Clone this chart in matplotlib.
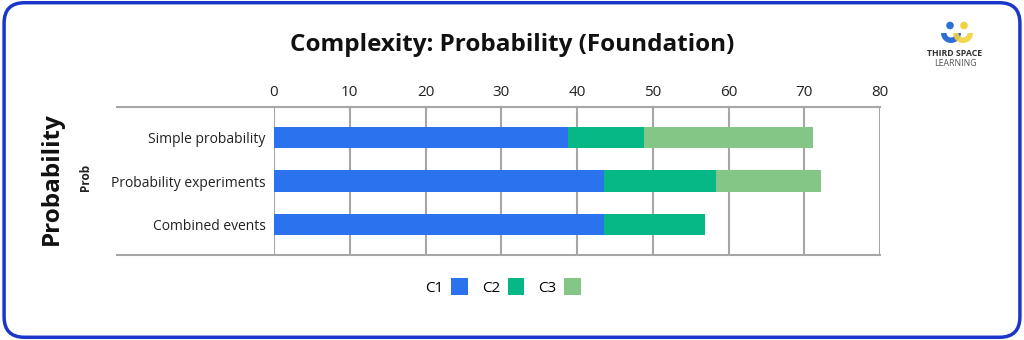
import numpy as np
import matplotlib.pyplot as plt
from matplotlib.patches import FancyBboxPatch, Circle, Wedge
from matplotlib.lines import Line2D

# data
topics = ["Simple probability", "Probability experiments", "Combined events"]
c1 = [38.8, 43.6, 43.6]
c2 = [10.0, 14.7, 13.3]
c3 = [22.4, 13.9, 0.0]
series_names = ["C1", "C2", "C3"]
colors = ["#2b72ee", "#05b886", "#84c685"]
xticks = [0, 10, 20, 30, 40, 50, 60, 70, 80]

plt.rcParams['font.family'] = ['Open Sans', 'DejaVu Sans']

fig = plt.figure(figsize=(10.24, 3.4), dpi=100)

# rounded blue frame
frame = FancyBboxPatch((0.004, 0.008), 0.992, 0.984, transform=fig.transFigure,
                       boxstyle="round,pad=0,rounding_size=0.02",
                       fc="none", ec="#1b36c9", lw=2.5, mutation_aspect=3.0, zorder=0)
fig.patches.append(frame)

ax = fig.add_axes([274/1024, 1-255/340, (880-274)/1024, (255-107)/340])
ax.set_facecolor("none")
y = np.arange(len(topics))
left = np.zeros(len(topics))
for vals, name, col in zip([c1, c2, c3], series_names, colors):
    ax.barh(y, vals, left=left, height=0.5, color=col, label=name, zorder=3)
    left = left + np.array(vals)

ax.set_xlim(0, 80)
ax.set_ylim(2.7, -0.7)
ax.set_xticks(xticks)
ax.xaxis.tick_top()
ax.tick_params(axis='x', length=0, pad=5, labelsize=11, colors="#222222")
ax.set_yticks(y)
ax.set_yticklabels(topics)
ax.tick_params(axis='y', length=0, pad=6, labelsize=10, colors="#222222")
ax.grid(axis='x', color="#a6a6a6", lw=1.5, zorder=0)
for s in ["left", "right", "top", "bottom"]:
    ax.spines[s].set_visible(False)
# category boundary lines that reach out past the labels
for yy in [-0.7, 2.7]:
    ax.add_line(Line2D([-157/7.575, 80], [yy, yy], color="#a6a6a6", lw=1.5,
                       clip_on=False, zorder=1))

fig.text(0.5, 0.868, "Complexity: Probability (Foundation)", ha="center", va="center",
         fontsize=17.5, fontweight="bold", color="#111111")
fig.text(52/1024, 0.476, "Probability", rotation=90, ha="center", va="center",
         fontsize=17.5, fontweight="bold", color="#111111")
fig.text(85/1024, 0.478, "Prob", rotation=90, ha="center", va="center",
         fontsize=8.5, fontweight="bold", color="#222222")

handles, labels = ax.get_legend_handles_labels()
fig.legend(handles, labels, loc="center", bbox_to_anchor=(503/1024, 1-287/340),
           ncol=3, frameon=False, markerfirst=False, fontsize=11,
           handlelength=1.1, handleheight=1.3, columnspacing=0.9, handletextpad=0.5)

# logo
lx, ly = 957/1024, 1-35/340
logo_ax = fig.add_axes([lx - 0.025, ly - 0.05, 0.05, 0.1])
logo_ax.set_xlim(-2.5, 2.5)
logo_ax.set_ylim(-1.6, 1.8)
logo_ax.set_aspect("equal")
logo_ax.axis("off")
logo_ax.add_patch(Wedge((-0.6, 0.3), 1.0, 180, 360, width=0.55, fc="#2e6fd6", ec="none"))
logo_ax.add_patch(Wedge((0.6, 0.3), 1.0, 180, 360, width=0.55, fc="#f2d23c", ec="none", alpha=0.9))
logo_ax.add_patch(Circle((-0.7, 1.05), 0.38, fc="#2e6fd6", ec="none"))
logo_ax.add_patch(Circle((0.7, 1.05), 0.38, fc="#f2d23c", ec="none"))
fig.text(lx - 0.002, 1-54/340, "THIRD SPACE", ha="center", va="center", fontsize=6.3,
         fontweight="bold", color="#333333")
fig.text(lx - 0.002, 1-64/340, "LEARNING", ha="center", va="center", fontsize=6.3,
         color="#555555")

fig.savefig("out.png", dpi=100)
